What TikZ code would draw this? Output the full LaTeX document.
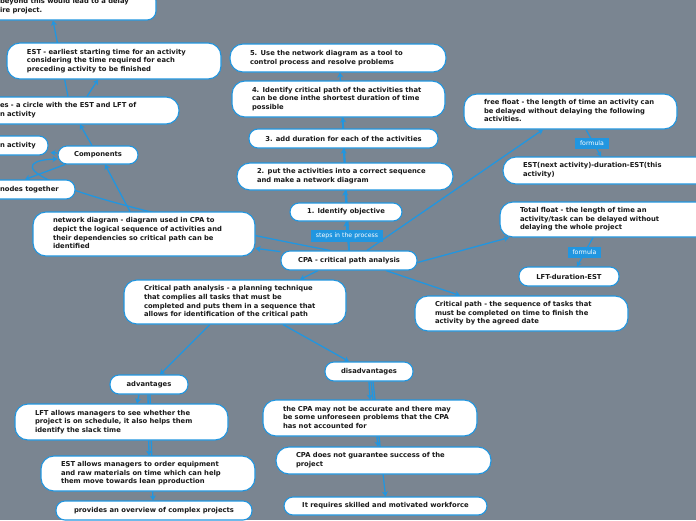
\documentclass[tikz,border=0pt]{standalone}
\usepackage{fontspec}
\setmainfont{DejaVu Sans}
\usetikzlibrary{arrows.meta,backgrounds}
\definecolor{bgc}{HTML}{7A8591}
\definecolor{bb}{HTML}{2196E0}
\definecolor{tx}{HTML}{1A1A1A}
\newcommand{\tlines}[1]{\begin{tabular}{@{}l@{}}#1\end{tabular}}
\newcommand{\mybx}[7]{%
  \pgfmathsetmacro{\bw}{#4-#2}\pgfmathsetmacro{\bh}{#5-#3}\pgfmathsetmacro{\tw}{#4-#2-40}%
  \pgfmathsetmacro{\cx}{(#2+#4)/2}\pgfmathsetmacro{\cy}{(#3+#5)/2}%
  \node[tb,align=left,#6,minimum width=\bw pt,minimum height=\bh pt,text width=\tw pt] (#1) at (\cx,\cy) {#7};}
\newcommand{\mycx}[6]{%
  \pgfmathsetmacro{\bw}{#4-#2}\pgfmathsetmacro{\bh}{#5-#3}%
  \pgfmathsetmacro{\cx}{(#2+#4)/2}\pgfmathsetmacro{\cy}{(#3+#5)/2}%
  \node[tb,align=center,rsm,inner xsep=0pt,minimum width=\bw pt,minimum height=\bh pt] (#1) at (\cx,\cy) {#6};}
\tikzset{
  tb/.style={draw=bb, line width=1.1pt, fill=white, inner xsep=20pt, inner ysep=0pt,
    font=\bfseries\fontsize{6.8}{8.6}\selectfont, text=tx},
  rbig/.style={rounded corners=13pt},
  rsm/.style={rounded corners=9pt},
  lbl/.style={fill=bb, text=white, font=\fontsize{6.2}{7}\selectfont, inner xsep=3pt, inner ysep=0pt, minimum height=11.5pt},
  conn/.style={draw=bb, line width=1.3pt, -{Stealth[length=5pt,width=6pt]}}
}
\begin{document}
\begin{tikzpicture}[x=1pt,y=-1pt]
\useasboundingbox (0,0) rectangle (696,520);
\begin{scope}
\clip (0,0) rectangle (696,520);
% left cluster
\mybx{lft}{-20}{-8}{156}{20}{rsm}{\tlines{beyond this would lead to a delay\\ire project.}}
\mybx{est}{7}{43}{221}{79}{rbig}{\tlines{EST - earliest starting time for an activity\\considering the time required for each\\preceding activity to be finished}}
\mybx{ndn}{-20}{97}{179}{124}{rbig}{\tlines{es - a circle with the EST and LFT of\\n activity}}
\mybx{act}{-20}{136}{48}{155}{rsm}{\tlines{n activity}}
\mycx{comp}{58}{146}{138}{164}{Components}
\mybx{nt}{-20}{180}{75}{199}{rsm}{\tlines{nodes together}}
\mybx{nd}{33}{212}{255}{256}{rbig}{\tlines{network diagram - diagram used in CPA to\\depict the logical sequence of activities and\\their dependencies so critical path can be\\identified}}
% steps
\mybx{s5}{230}{44}{446}{72}{rbig}{\tlines{5. Use the network diagram as a tool to\\control process and resolve problems}}
\mybx{s4}{232}{81}{445}{117}{rbig}{\tlines{4. Identify critical path of the activities that\\can be done inthe shortest duration of time\\possible}}
\mycx{s3}{249}{129}{438}{148}{3. add duration for each of the activities}
\mybx{s2}{237}{163}{453}{190}{rbig}{\tlines{2. put the activities into a correct sequence\\and make a network diagram}}
\mycx{s1}{290}{203}{402}{221}{1. Identify objective}
\mycx{cpa}{281}{251}{417}{270}{CPA - critical path analysis}
% right
\mybx{ff}{464}{94}{677}{129}{rbig}{\tlines{free float - the length of time an activity can\\be delayed without delaying the following\\activities.}}
\mybx{fn}{503}{157}{712}{184}{rbig}{\tlines{EST(next activity)-duration-EST(this\\activity)}}
\mybx{tf}{500}{202}{712}{237}{rbig}{\tlines{Total float - the length of time an\\activity/task can be delayed without\\delaying the whole project}}
\mycx{lde}{519}{267}{619}{286}{LFT-duration-EST}
\mybx{cp}{415}{296}{628}{331}{rbig}{\tlines{Critical path - the sequence of tasks that\\must be completed on time to finish the\\activity by the agreed date}}
% bottom
\mybx{cpaa}{124}{280}{346}{324}{rbig}{\tlines{Critical path analysis - a planning technique\\that complies all tasks that must be\\completed and puts them in a sequence that\\allows for identification of the critical path}}
\mycx{adv}{110}{375}{188}{394}{advantages}
\mybx{lfa}{15}{404}{228}{440}{rbig}{\tlines{LFT allows managers to see whether the\\project is on schedule, it also helps them\\identify the slack time}}
\mybx{esa}{41}{456}{255}{491}{rbig}{\tlines{EST allows managers to order equipment\\and raw materials on time which can help\\them move towards lean pproduction}}
\mycx{prov}{56}{501}{252}{520}{provides an overview of complex projects}
\mycx{dis}{325}{362}{413}{381}{disadvantages}
\mybx{cma}{263}{400}{477}{436}{rbig}{\tlines{the CPA may not be accurate and there may\\be some unforeseen problems that the CPA\\has not accounted for}}
\mybx{cdn}{276}{447}{491}{474}{rbig}{\tlines{CPA does not guarantee success of the\\project}}
\mycx{req}{284}{497}{487}{515}{It requires skilled and motivated workforce}
% labels
\node[lbl, minimum width=72pt] (l1) at (347,236) {steps in the process};
\node[lbl, minimum width=34pt] (l2) at (592,143.5) {formula};
\node[lbl, minimum width=33pt] (l3) at (584.5,252.5) {formula};
\end{scope}
\begin{pgfonlayer}{background}
\fill[bgc] (0,0) rectangle (696,520);
\clip (0,0) rectangle (696,520);
\draw[conn] (cpa.north) -- (s1.south);
\draw[conn] (cpa.north) -- (s2.south);
\draw[conn] (cpa.north) -- (s3.south);
\draw[conn] (cpa.north) -- ([xshift=4.5pt]s4.south);
\draw[conn] (cpa.north) -- ([xshift=2pt]s5.south);
\draw[conn] (cpa) -- (nd);
\draw[conn] ([xshift=-19pt]cpa.north) .. controls (-10,185) and (15,160) .. ([yshift=-4pt]comp.west);
\draw[conn] ([xshift=-14pt]nd.north) -- ([xshift=7pt]comp.south);
\draw[conn] ([xshift=-6pt]comp.north) -- ([xshift=0.5pt]ndn.south);
\draw[conn] ([yshift=2pt]comp.west) -- ([xshift=2pt,yshift=3pt]act.south east);
\draw[conn] ([xshift=-33pt]comp.south) -- ([xshift=-2.5pt]nt.north);
\draw[conn] ([xshift=7.5pt]ndn.north) -- ([xshift=-16pt]est.south);
\draw[conn] ([xshift=-11.5pt]ndn.north) -- ([xshift=-15pt]lft.south);
\draw[conn] ([xshift=18pt]cpa.north) -- ([xshift=-27.5pt]ff.south);
\draw[conn] ([yshift=-2pt]cpa.east) -- ([xshift=-97pt]tf.south);
\draw[conn] ([xshift=37pt]cpa.south) -- ([xshift=-61.5pt]cp.north);
\draw[conn] ([xshift=-31pt]cpa.south) -- ([xshift=65pt]cpaa.north);
\draw[conn] ([xshift=15.5pt]ff.south) -- ([xshift=-6.5pt]fn.north);
\draw[conn] ([xshift=-13pt]tf.south) -- ([xshift=8pt]lde.north);
\draw[conn] ([xshift=-25pt]cpaa.south) -- ([xshift=11pt]adv.north);
\draw[conn] ([xshift=48pt]cpaa.south) -- ([xshift=-20pt]dis.north);
\draw[conn] ([xshift=-10pt]adv.south) -- ([xshift=15.5pt]lfa.north);
\draw[conn] ([xshift=-1pt]adv.south) -- ([xshift=1pt]esa.north);
\draw[conn] ([xshift=1pt]adv.south) -- ([xshift=-1pt]prov.north);
\draw[conn] (dis.south) -- (cma.north);
\draw[conn] ([xshift=2pt]dis.south) -- ([xshift=-5.5pt]cdn.north);
\draw[conn] ([xshift=4pt]dis.south) -- (req.north);
\end{pgfonlayer}
\end{tikzpicture}
\end{document}
